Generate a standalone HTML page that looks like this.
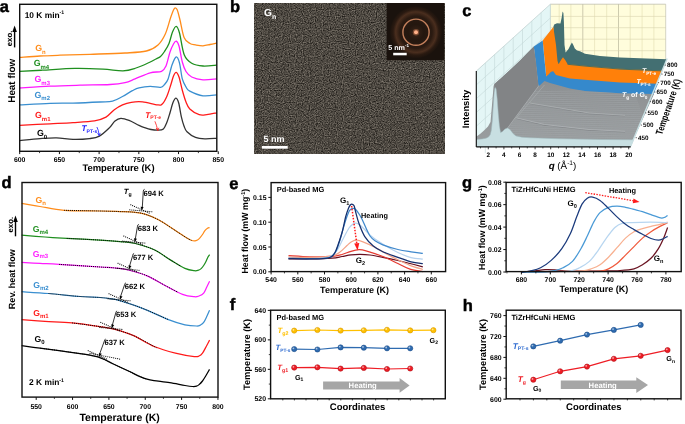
<!DOCTYPE html><html><head><meta charset="utf-8"><style>html,body{margin:0;padding:0;background:#fff;width:685px;height:424px;overflow:hidden}svg{display:block}text{font-family:"Liberation Sans",Arial,sans-serif;text-rendering:geometricPrecision}</style></head><body>
<svg width="685" height="424" viewBox="0 0 685 424">
<rect width="685" height="424" fill="#fff"/>
<text x="-0.3" y="12.3" font-size="16.5" font-weight="bold" text-anchor="start" fill="#000" stroke="#000" stroke-width="0.45">a</text>
<text x="24.7" y="17.6" font-size="8.4" font-weight="bold" text-anchor="start" fill="#000" >10 K min<tspan font-size="0.62em" dy="-3.2">-1</tspan></text>
<path d="M19.7,57.4 C23.08,57.17 33.28,56.37 40,56 C46.72,55.63 51.67,55.48 60,55.2 C68.33,54.92 79.17,54.67 90,54.3 C100.83,53.93 115.6,53.55 125,53 C134.4,52.45 140.9,52.33 146.4,51 C151.9,49.67 154.85,47.83 158,45 C161.15,42.17 163.22,38.5 165.3,34 C167.38,29.5 169.13,22 170.5,18 C171.87,14 172.7,11.68 173.5,10 C174.3,8.32 174.67,7.9 175.3,7.9 C175.93,7.9 176.52,7.98 177.3,10 C178.08,12.02 178.85,15.38 180,20 C181.15,24.62 182.53,33.78 184.2,37.7 C185.87,41.62 188.12,42.3 190,43.5 C191.88,44.7 193.33,44.52 195.5,44.9 C197.67,45.28 200.58,45.87 203,45.8 C205.42,45.73 207.7,44.97 210,44.5 C212.3,44.03 215.67,43.25 216.8,43" fill="none" stroke="#ff8c1a" stroke-width="1.3" stroke-linejoin="round"/>
<path d="M19.7,71.3 C23.42,71.12 32.78,70.68 42,70.2 C51.22,69.72 64.83,68.58 75,68.4 C85.17,68.22 95,68.7 103,69.1 C111,69.5 117.5,70.98 123,70.8 C128.5,70.62 131.63,69.38 136,68 C140.37,66.62 145.87,64 149.2,62.5 C152.53,61 154.12,60 156,59 C157.88,58 159.08,57.75 160.5,56.5 C161.92,55.25 163.08,53.68 164.5,51.5 C165.92,49.32 167.67,46.65 169,43.4 C170.33,40.15 171.3,34.83 172.5,32 C173.7,29.17 175.03,26.23 176.2,26.4 C177.37,26.57 178.17,28.28 179.5,33 C180.83,37.72 182.17,49.67 184.2,54.7 C186.23,59.73 188.57,61.32 191.7,63.2 C194.83,65.08 198.82,65.68 203,66 C207.18,66.32 214.5,65.25 216.8,65.1" fill="none" stroke="#1f8f1f" stroke-width="1.3" stroke-linejoin="round"/>
<path d="M19.7,88 C24.75,87.7 39.95,86.67 50,86.2 C60.05,85.73 70,85.48 80,85.2 C90,84.92 102.5,84.93 110,84.5 C117.5,84.07 120.82,83.53 125,82.6 C129.18,81.67 130.9,80.53 135.1,78.9 C139.3,77.27 145.8,74.07 150.2,72.8 C154.6,71.53 158.87,72.43 161.5,71.3 C164.13,70.17 164.58,69.22 166,66 C167.42,62.78 168.75,55.67 170,52 C171.25,48.33 172.47,45.82 173.5,44 C174.53,42.18 175.28,40.77 176.2,41.1 C177.12,41.43 177.98,42.52 179,46 C180.02,49.48 181.13,57.75 182.3,62 C183.47,66.25 184.43,69 186,71.5 C187.57,74 188.87,75.62 191.7,77 C194.53,78.38 198.82,79.48 203,79.8 C207.18,80.12 214.5,79.05 216.8,78.9" fill="none" stroke="#ff1aff" stroke-width="1.3" stroke-linejoin="round"/>
<path d="M19.7,104.9 C24.75,104.65 41.12,103.7 50,103.4 C58.88,103.1 64.67,103.33 73,103.1 C81.33,102.87 93.4,102.33 100,102 C106.6,101.67 108.85,102.02 112.6,101.1 C116.35,100.18 119.2,98.23 122.5,96.5 C125.8,94.77 129.65,92.13 132.4,90.7 C135.15,89.27 136.03,88.62 139,87.9 C141.97,87.18 146.6,86.48 150.2,86.4 C153.8,86.32 158.22,87.72 160.6,87.4 C162.98,87.08 163.25,85.92 164.5,84.5 C165.75,83.08 166.85,82.15 168.1,78.9 C169.35,75.65 170.65,68.65 172,65 C173.35,61.35 174.95,57.33 176.2,57 C177.45,56.67 178.48,59.35 179.5,63 C180.52,66.65 181.22,74.9 182.3,78.9 C183.38,82.9 184.75,84.97 186,87 C187.25,89.03 186.97,89.63 189.8,91.1 C192.63,92.57 198.5,95.17 203,95.8 C207.5,96.43 214.5,95.05 216.8,94.9" fill="none" stroke="#3a8fd0" stroke-width="1.3" stroke-linejoin="round"/>
<path d="M19.7,125.3 C24.75,125.05 41.12,124.25 50,123.8 C58.88,123.35 65.58,123.1 73,122.6 C80.42,122.1 89,121.72 94.5,120.8 C100,119.88 102.7,118.95 106,117.1 C109.3,115.25 111.55,111.75 114.3,109.7 C117.05,107.65 119.67,106.03 122.5,104.8 C125.33,103.57 127.95,102.78 131.3,102.3 C134.65,101.82 138.2,101.47 142.6,101.9 C147,102.33 154.38,104.58 157.7,104.9 C161.02,105.22 160.95,105.28 162.5,103.8 C164.05,102.32 165.6,99.22 167,96 C168.4,92.78 169.82,87.83 170.9,84.5 C171.98,81.17 172.62,78.03 173.5,76 C174.38,73.97 175.28,72.13 176.2,72.3 C177.12,72.47 177.98,74.02 179,77 C180.02,79.98 181.13,86.03 182.3,90.2 C183.47,94.37 184.75,98.87 186,102 C187.25,105.13 187.6,106.88 189.8,109 C192,111.12 196.37,113.75 199.2,114.7 C202.03,115.65 203.87,115.02 206.8,114.7 C209.73,114.38 215.13,113.12 216.8,112.8" fill="none" stroke="#ff1a1a" stroke-width="1.3" stroke-linejoin="round"/>
<path d="M19.7,140.6 C23.08,140.27 33.87,139.07 40,138.6 C46.13,138.13 51,137.67 56.5,137.8 C62,137.93 67.5,139.27 73,139.4 C78.5,139.53 85.1,139.15 89.5,138.6 C93.9,138.05 96.1,137.88 99.4,136.1 C102.7,134.32 106.7,130.42 109.3,127.9 C111.9,125.38 113.07,122.6 115,121 C116.93,119.4 118.55,118.4 120.9,118.3 C123.25,118.2 126.08,119.22 129.1,120.4 C132.12,121.58 136.43,124.2 139,125.4 C141.57,126.6 142.5,126.92 144.5,127.6 C146.5,128.28 148.8,129.07 151,129.5 C153.2,129.93 155.63,130.3 157.7,130.2 C159.77,130.1 161.85,130.27 163.4,128.9 C164.95,127.53 165.9,124.68 167,122 C168.1,119.32 169,116.05 170,112.8 C171,109.55 172,104.95 173,102.5 C174,100.05 175.05,98.02 176,98.1 C176.95,98.18 177.82,99.92 178.7,103 C179.58,106.08 180.42,112.77 181.3,116.6 C182.18,120.43 183.05,123.48 184,126 C184.95,128.52 185.08,129.8 187,131.7 C188.92,133.6 192.52,136.2 195.5,137.4 C198.48,138.6 201.35,138.75 204.9,138.9 C208.45,139.05 214.82,138.4 216.8,138.3" fill="none" stroke="#333333" stroke-width="1.3" stroke-linejoin="round"/>
<text x="35.2" y="51.4" font-size="8.8" font-weight="bold" text-anchor="start" fill="#ff8c1a" >G<tspan font-size="0.68em" dy="2.4">n</tspan></text>
<text x="33.7" y="66.2" font-size="8.8" font-weight="bold" text-anchor="start" fill="#1f8f1f" >G<tspan font-size="0.68em" dy="2.4">m4</tspan></text>
<text x="34.5" y="82.4" font-size="8.8" font-weight="bold" text-anchor="start" fill="#ff1aff" >G<tspan font-size="0.68em" dy="2.4">m3</tspan></text>
<text x="34.5" y="98" font-size="8.8" font-weight="bold" text-anchor="start" fill="#3a8fd0" >G<tspan font-size="0.68em" dy="2.4">m2</tspan></text>
<text x="35" y="118.2" font-size="8.8" font-weight="bold" text-anchor="start" fill="#ff1a1a" >G<tspan font-size="0.68em" dy="2.4">m1</tspan></text>
<text x="37" y="136.4" font-size="8.8" font-weight="bold" text-anchor="start" fill="#000" >G<tspan font-size="0.68em" dy="2.4">0</tspan></text>
<text x="81.6" y="131.3" font-size="8.2" font-weight="bold" text-anchor="start" fill="#1a1aff" ><tspan font-style="italic">T</tspan><tspan font-size="0.62em" dy="1.5">PT-s</tspan></text>
<path d="M96.9,127 Q98.6,130 99.1,135" fill="none" stroke="#1a1aff" stroke-width="0.8" />
<path d="M97.6,133.2 L99.2,135.8 L100.2,132.9" fill="none" stroke="#1a1aff" stroke-width="0.8" />
<text x="145.3" y="117.5" font-size="8.2" font-weight="bold" text-anchor="start" fill="#ff1a1a" ><tspan font-style="italic">T</tspan><tspan font-size="0.62em" dy="1.5">PT-e</tspan></text>
<path d="M154.9,121.3 Q156.6,125 157.7,130.2" fill="none" stroke="#ff1a1a" stroke-width="0.8" />
<path d="M156.2,128 L157.8,130.8 L158.9,127.8" fill="none" stroke="#ff1a1a" stroke-width="0.8" />
<rect x="19.7" y="4.3" width="197.1" height="147" fill="none" stroke="#111" stroke-width="1.4"/>
<line x1="19.7" y1="151.3" x2="19.7" y2="154.1" stroke="#111" stroke-width="1" />
<text x="19.7" y="162.3" font-size="6.9" font-weight="bold" text-anchor="middle" fill="#000" >600</text>
<line x1="59.41" y1="151.3" x2="59.41" y2="154.1" stroke="#111" stroke-width="1" />
<text x="59.41" y="162.3" font-size="6.9" font-weight="bold" text-anchor="middle" fill="#000" >650</text>
<line x1="99.12" y1="151.3" x2="99.12" y2="154.1" stroke="#111" stroke-width="1" />
<text x="99.12" y="162.3" font-size="6.9" font-weight="bold" text-anchor="middle" fill="#000" >700</text>
<line x1="138.83" y1="151.3" x2="138.83" y2="154.1" stroke="#111" stroke-width="1" />
<text x="138.83" y="162.3" font-size="6.9" font-weight="bold" text-anchor="middle" fill="#000" >750</text>
<line x1="178.54" y1="151.3" x2="178.54" y2="154.1" stroke="#111" stroke-width="1" />
<text x="178.54" y="162.3" font-size="6.9" font-weight="bold" text-anchor="middle" fill="#000" >800</text>
<line x1="218.25" y1="151.3" x2="218.25" y2="154.1" stroke="#111" stroke-width="1" />
<text x="218.25" y="162.3" font-size="6.9" font-weight="bold" text-anchor="middle" fill="#000" >850</text>
<line x1="39.55" y1="151.3" x2="39.55" y2="153.1" stroke="#111" stroke-width="0.8" />
<line x1="79.27" y1="151.3" x2="79.27" y2="153.1" stroke="#111" stroke-width="0.8" />
<line x1="118.98" y1="151.3" x2="118.98" y2="153.1" stroke="#111" stroke-width="0.8" />
<line x1="158.69" y1="151.3" x2="158.69" y2="153.1" stroke="#111" stroke-width="0.8" />
<line x1="198.39" y1="151.3" x2="198.39" y2="153.1" stroke="#111" stroke-width="0.8" />
<text x="118.5" y="170.7" font-size="9.45" font-weight="bold" text-anchor="middle" fill="#000" >Temperature (K)</text>
<text x="15" y="80.8" font-size="9.9" font-weight="bold" text-anchor="middle" fill="#000" transform="rotate(-90 15 80.8)" >Heat flow</text>
<text x="11.8" y="38.4" font-size="7.8" font-weight="bold" text-anchor="middle" fill="#000" transform="rotate(-90 11.8 38.4)" >exo.</text>
<line x1="14.6" y1="47.4" x2="14.6" y2="30" stroke="#000" stroke-width="1.4" />
<path d="M12.3,32 L14.6,25.6 L16.9,32 Z" fill="#000" stroke="none" stroke-width="0" />
<text x="1.4" y="188.3" font-size="16.5" font-weight="bold" text-anchor="start" fill="#000" stroke="#000" stroke-width="0.45">d</text>
<path d="M21.6,203.4 C24.67,203.92 32.9,205.35 40,206.5 C47.1,207.65 54.2,209.55 64.2,210.3 C74.2,211.05 90.7,210.78 100,211 C109.3,211.22 114.17,211.38 120,211.6 C125.83,211.82 130.83,211.87 135,212.3 C139.17,212.73 141.02,212.92 145,214.2 C148.98,215.48 153.83,217.27 158.9,220 C163.97,222.73 170.88,227.68 175.4,230.6 C179.92,233.52 183.25,235.85 186,237.5 C188.75,239.15 190.23,239.98 191.9,240.5 C193.57,241.02 194.82,240.87 196,240.6 C197.18,240.33 197.92,239.92 199,238.9 C200.08,237.88 201.52,235.88 202.5,234.5 C203.48,233.12 204.07,231.63 204.9,230.6 C205.73,229.57 206.72,228.8 207.5,228.3 C208.28,227.8 209.25,227.72 209.6,227.6" fill="none" stroke="#ff8c1a" stroke-width="1.25" stroke-linejoin="round"/>
<path d="M21.6,235.1 C25.5,235.42 37.47,236.45 45,237 C52.53,237.55 57.63,237.88 66.8,238.4 C75.97,238.92 91.13,239.57 100,240.1 C108.87,240.63 114.1,241.03 120,241.6 C125.9,242.17 129.7,242.13 135.4,243.5 C141.1,244.87 148.32,247.03 154.2,249.8 C160.08,252.57 165.58,257 170.7,260.1 C175.82,263.2 180.97,266.63 184.9,268.4 C188.83,270.17 191.95,270.43 194.3,270.7 C196.65,270.97 197.82,270.38 199,270 C200.18,269.62 200.57,269.23 201.4,268.4 C202.23,267.57 203.22,266.18 204,265 C204.78,263.82 205.43,262.63 206.1,261.3 C206.77,259.97 207.42,258.1 208,257 C208.58,255.9 209.33,255.08 209.6,254.7" fill="none" stroke="#1f8f1f" stroke-width="1.25" stroke-linejoin="round"/>
<path d="M21.6,262.3 C24.67,262.48 33.77,263.05 40,263.4 C46.23,263.75 49,263.8 59,264.4 C69,265 90.67,266.4 100,267 C109.33,267.6 110.28,267.5 115,268 C119.72,268.5 122.95,268.7 128.3,270 C133.65,271.3 140.82,273.13 147.1,275.8 C153.38,278.47 160.1,282.92 166,286 C171.9,289.08 177.78,292.52 182.5,294.3 C187.22,296.08 191.55,296.42 194.3,296.7 C197.05,296.98 197.43,296.6 199,296 C200.57,295.4 202.4,294.6 203.7,293.1 C205,291.6 205.82,288.97 206.8,287 C207.78,285.03 209.13,282.25 209.6,281.3" fill="none" stroke="#ff1aff" stroke-width="1.25" stroke-linejoin="round"/>
<path d="M21.6,291.7 C26.1,292 38.87,292.7 48.6,293.5 C58.33,294.3 71.43,295.83 80,296.5 C88.57,297.17 95,297.15 100,297.5 C105,297.85 106.85,298.12 110,298.6 C113.15,299.08 113.5,298.78 118.9,300.4 C124.3,302.02 134.15,305.1 142.4,308.3 C150.65,311.5 161.32,316.85 168.4,319.6 C175.48,322.35 180.18,323.73 184.9,324.8 C189.62,325.87 194.1,325.97 196.7,326 C199.3,326.03 199.33,325.6 200.5,325 C201.67,324.4 202.62,323.9 203.7,322.4 C204.78,320.9 206.02,318.03 207,316 C207.98,313.97 209.17,311.17 209.6,310.2" fill="none" stroke="#3a8fd0" stroke-width="1.25" stroke-linejoin="round"/>
<path d="M21.6,319.7 C25.5,319.97 36.6,320.77 45,321.3 C53.4,321.83 62.83,322.02 72,322.9 C81.17,323.78 92.98,325.55 100,326.6 C107.02,327.65 108.6,327.73 114.1,329.2 C119.6,330.67 126.32,332.52 133,335.4 C139.68,338.28 147.13,343.55 154.2,346.5 C161.27,349.45 168.72,351.42 175.4,353.1 C182.08,354.78 190.37,356.12 194.3,356.6 C198.23,357.08 197.63,356.58 199,356 C200.37,355.42 201.25,354.77 202.5,353.1 C203.75,351.43 205.32,348.17 206.5,346 C207.68,343.83 209.08,341.08 209.6,340.1" fill="none" stroke="#ff1a1a" stroke-width="1.25" stroke-linejoin="round"/>
<path d="M21.6,345.7 C24.67,346.12 33.77,347.38 40,348.2 C46.23,349.02 52.33,349.7 59,350.6 C65.67,351.5 74.83,352.83 80,353.6 C85.17,354.37 87.02,354.67 90,355.2 C92.98,355.73 95.4,356.03 97.9,356.8 C100.4,357.57 102.52,358.65 105,359.8 C107.48,360.95 108.8,361.78 112.8,363.7 C116.8,365.62 124.47,369.15 129,371.3 C133.53,373.45 137,375.28 140,376.6 C143,377.92 144.67,378.53 147,379.2 C149.33,379.87 150.22,380.02 154,380.6 C157.78,381.18 164.53,381.88 169.7,382.7 C174.87,383.52 181.2,384.87 185,385.5 C188.8,386.13 190.58,386.38 192.5,386.5 C194.42,386.62 195.4,386.52 196.5,386.2 C197.6,385.88 198.1,385.47 199.1,384.6 C200.1,383.73 201.4,382.43 202.5,381 C203.6,379.57 204.53,377.93 205.7,376 C206.87,374.07 208.87,370.5 209.5,369.4" fill="none" stroke="#000000" stroke-width="1.25" stroke-linejoin="round"/>
<path d="M64.2,210.3 C70.17,210.42 90.7,210.78 100,211 C109.3,211.22 114.17,211.38 120,211.6 C125.83,211.82 130.83,211.87 135,212.3 C139.17,212.73 141.02,212.92 145,214.2 C148.98,215.48 153.83,217.27 158.9,220 C163.97,222.73 170.88,227.68 175.4,230.6 C179.92,233.52 183.32,235.87 186,237.5 C188.68,239.13 190.58,239.92 191.5,240.4" fill="none" stroke="#000" stroke-width="1" stroke-dasharray="1 1"/>
<path d="M66.8,238.4 C72.33,238.68 91.13,239.57 100,240.1 C108.87,240.63 114.1,241.03 120,241.6 C125.9,242.17 129.7,242.13 135.4,243.5 C141.1,244.87 148.32,247.03 154.2,249.8 C160.08,252.57 166.23,257.33 170.7,260.1 C175.17,262.87 179.28,265.35 181,266.4" fill="none" stroke="#000" stroke-width="1" stroke-dasharray="1 1"/>
<path d="M59,264.4 C65.83,264.83 90.67,266.4 100,267 C109.33,267.6 110.28,267.5 115,268 C119.72,268.5 122.95,268.7 128.3,270 C133.65,271.3 140.82,273.13 147.1,275.8 C153.38,278.47 160.85,283.25 166,286 C171.15,288.75 176,291.25 178,292.3" fill="none" stroke="#000" stroke-width="1" stroke-dasharray="1 1"/>
<path d="M48.6,293.5 C53.83,294 71.43,295.83 80,296.5 C88.57,297.17 95,297.15 100,297.5 C105,297.85 106.85,298.12 110,298.6 C113.15,299.08 113.5,298.78 118.9,300.4 C124.3,302.02 134.15,305.1 142.4,308.3 C150.65,311.5 164.07,317.72 168.4,319.6" fill="none" stroke="#000" stroke-width="1" stroke-dasharray="1 1"/>
<path d="M72,322.9 C76.67,323.52 92.98,325.55 100,326.6 C107.02,327.65 108.6,327.73 114.1,329.2 C119.6,330.67 126.32,332.52 133,335.4 C139.68,338.28 150.37,344.5 154.2,346.5 C158.03,348.5 155.7,347.25 156,347.4" fill="none" stroke="#000" stroke-width="1" stroke-dasharray="1 1"/>
<path d="M40,348.2 C43.17,348.6 52.33,349.7 59,350.6 C65.67,351.5 74.83,352.83 80,353.6 C85.17,354.37 87.02,354.67 90,355.2 C92.98,355.73 95.4,356.03 97.9,356.8 C100.4,357.57 102.52,358.65 105,359.8 C107.48,360.95 108.8,361.78 112.8,363.7 C116.8,365.62 124.47,369.15 129,371.3 C133.53,373.45 137.17,375.32 140,376.6 C142.83,377.88 145,378.6 146,379" fill="none" stroke="#000" stroke-width="1" stroke-dasharray="1 1"/>
<line x1="130.8" y1="204.8" x2="150.8" y2="213.8" stroke="#000" stroke-width="1.15" stroke-dasharray="0.01 2" stroke-linecap="round"/>
<line x1="129.8" y1="209.8" x2="153.8" y2="211.9" stroke="#000" stroke-width="1.15" stroke-dasharray="0.01 2" stroke-linecap="round"/>
<line x1="123.8" y1="236.1" x2="143.8" y2="245.1" stroke="#000" stroke-width="1.15" stroke-dasharray="0.01 2" stroke-linecap="round"/>
<line x1="122.8" y1="241.1" x2="146.8" y2="243.2" stroke="#000" stroke-width="1.15" stroke-dasharray="0.01 2" stroke-linecap="round"/>
<line x1="118" y1="263.3" x2="138" y2="272.3" stroke="#000" stroke-width="1.15" stroke-dasharray="0.01 2" stroke-linecap="round"/>
<line x1="117" y1="268.3" x2="141" y2="270.4" stroke="#000" stroke-width="1.15" stroke-dasharray="0.01 2" stroke-linecap="round"/>
<line x1="109" y1="293.8" x2="129" y2="302.8" stroke="#000" stroke-width="1.15" stroke-dasharray="0.01 2" stroke-linecap="round"/>
<line x1="108" y1="298.8" x2="132" y2="300.9" stroke="#000" stroke-width="1.15" stroke-dasharray="0.01 2" stroke-linecap="round"/>
<line x1="100.8" y1="322.4" x2="120.8" y2="331.4" stroke="#000" stroke-width="1.15" stroke-dasharray="0.01 2" stroke-linecap="round"/>
<line x1="99.8" y1="327.4" x2="123.8" y2="329.5" stroke="#000" stroke-width="1.15" stroke-dasharray="0.01 2" stroke-linecap="round"/>
<line x1="88.2" y1="350.7" x2="108.2" y2="359.7" stroke="#000" stroke-width="1.15" stroke-dasharray="0.01 2" stroke-linecap="round"/>
<line x1="90" y1="353.3" x2="121.3" y2="359.4" stroke="#000" stroke-width="1.15" stroke-dasharray="0.01 2" stroke-linecap="round"/>
<text x="143.5" y="195.5" font-size="7.6" font-weight="bold" text-anchor="start" fill="#000" >694 K</text>
<path d="M144.6,189.3 Q143.4,189.5 143.3,191.1 L142.3,207.4" fill="none" stroke="#000" stroke-width="0.8" />
<path d="M141.8,210.6 L140.6,206.7 L143.59,206.93 Z" fill="#000"/>
<text x="137.7" y="230.6" font-size="7.6" font-weight="bold" text-anchor="start" fill="#000" >683 K</text>
<path d="M138.8,224.4 Q137.6,224.6 137.5,226.2 L135.3,239" fill="none" stroke="#000" stroke-width="0.8" />
<path d="M134.8,242.2 L133.95,238.2 L136.91,238.7 Z" fill="#000"/>
<text x="133" y="259.6" font-size="7.6" font-weight="bold" text-anchor="start" fill="#000" >677 K</text>
<path d="M134.1,253.4 Q132.9,253.6 132.8,255.2 L129.5,266.2" fill="none" stroke="#000" stroke-width="0.8" />
<path d="M129,269.4 L128.53,265.34 L131.43,266.12 Z" fill="#000"/>
<text x="124.8" y="289.1" font-size="7.6" font-weight="bold" text-anchor="start" fill="#000" >662 K</text>
<path d="M125.9,282.9 Q124.7,283.1 124.6,284.7 L120.5,296.6" fill="none" stroke="#000" stroke-width="0.8" />
<path d="M120,299.8 L119.67,295.73 L122.54,296.6 Z" fill="#000"/>
<text x="116" y="317.2" font-size="7.6" font-weight="bold" text-anchor="start" fill="#000" >653 K</text>
<path d="M117.1,311 Q115.9,311.2 115.8,312.8 L112.3,325.2" fill="none" stroke="#000" stroke-width="0.8" />
<path d="M111.8,328.4 L111.29,324.35 L114.2,325.09 Z" fill="#000"/>
<text x="104.6" y="345.3" font-size="7.6" font-weight="bold" text-anchor="start" fill="#000" >637 K</text>
<path d="M105.7,339.1 Q104.5,339.3 104.4,340.9 L99.7,353.8" fill="none" stroke="#000" stroke-width="0.8" />
<path d="M99.2,357 L98.94,352.92 L101.8,353.84 Z" fill="#000"/>
<text x="123.8" y="194.4" font-size="7.6" font-weight="bold" text-anchor="start" fill="#000" ><tspan font-style="italic">T</tspan><tspan font-size="0.68em" dy="1.6">g</tspan></text>
<text x="35.6" y="202.6" font-size="8.6" font-weight="bold" text-anchor="start" fill="#ff8c1a" >G<tspan font-size="0.7em" dy="1.9">n</tspan></text>
<text x="32.7" y="232.1" font-size="8.6" font-weight="bold" text-anchor="start" fill="#1f8f1f" >G<tspan font-size="0.7em" dy="1.9">m4</tspan></text>
<text x="32.7" y="256.5" font-size="8.6" font-weight="bold" text-anchor="start" fill="#ff1aff" >G<tspan font-size="0.7em" dy="1.9">m3</tspan></text>
<text x="33.2" y="287.7" font-size="8.6" font-weight="bold" text-anchor="start" fill="#3a8fd0" >G<tspan font-size="0.7em" dy="1.9">m2</tspan></text>
<text x="33.2" y="315.7" font-size="8.6" font-weight="bold" text-anchor="start" fill="#ff1a1a" >G<tspan font-size="0.7em" dy="1.9">m1</tspan></text>
<text x="34.5" y="342.3" font-size="8.6" font-weight="bold" text-anchor="start" fill="#000" >G<tspan font-size="0.7em" dy="1.9">0</tspan></text>
<text x="29.1" y="385.1" font-size="8.4" font-weight="bold" text-anchor="start" fill="#000" >2 K min<tspan font-size="0.62em" dy="-3.2">-1</tspan></text>
<rect x="22" y="182.5" width="196" height="214.6" fill="none" stroke="#111" stroke-width="1.4"/>
<line x1="36.2" y1="397.1" x2="36.2" y2="399.9" stroke="#111" stroke-width="1" />
<text x="36.2" y="408.8" font-size="6.9" font-weight="bold" text-anchor="middle" fill="#000" >550</text>
<line x1="72.55" y1="397.1" x2="72.55" y2="399.9" stroke="#111" stroke-width="1" />
<text x="72.55" y="408.8" font-size="6.9" font-weight="bold" text-anchor="middle" fill="#000" >600</text>
<line x1="108.9" y1="397.1" x2="108.9" y2="399.9" stroke="#111" stroke-width="1" />
<text x="108.9" y="408.8" font-size="6.9" font-weight="bold" text-anchor="middle" fill="#000" >650</text>
<line x1="145.25" y1="397.1" x2="145.25" y2="399.9" stroke="#111" stroke-width="1" />
<text x="145.25" y="408.8" font-size="6.9" font-weight="bold" text-anchor="middle" fill="#000" >700</text>
<line x1="181.6" y1="397.1" x2="181.6" y2="399.9" stroke="#111" stroke-width="1" />
<text x="181.6" y="408.8" font-size="6.9" font-weight="bold" text-anchor="middle" fill="#000" >750</text>
<line x1="217.95" y1="397.1" x2="217.95" y2="399.9" stroke="#111" stroke-width="1" />
<text x="217.95" y="408.8" font-size="6.9" font-weight="bold" text-anchor="middle" fill="#000" >800</text>
<line x1="54.38" y1="397.1" x2="54.38" y2="398.9" stroke="#111" stroke-width="0.8" />
<line x1="90.72" y1="397.1" x2="90.72" y2="398.9" stroke="#111" stroke-width="0.8" />
<line x1="127.08" y1="397.1" x2="127.08" y2="398.9" stroke="#111" stroke-width="0.8" />
<line x1="163.43" y1="397.1" x2="163.43" y2="398.9" stroke="#111" stroke-width="0.8" />
<line x1="199.77" y1="397.1" x2="199.77" y2="398.9" stroke="#111" stroke-width="0.8" />
<text x="119.6" y="421.3" font-size="10.5" font-weight="bold" text-anchor="middle" fill="#000" >Temperature (K)</text>
<text x="14.6" y="279.2" font-size="9" font-weight="bold" text-anchor="middle" fill="#000" transform="rotate(-90 14.6 279.2)" >Rev. heat flow</text>
<text x="13.1" y="224.7" font-size="7.8" font-weight="bold" text-anchor="middle" fill="#000" transform="rotate(-90 13.1 224.7)" >exo.</text>
<line x1="15.5" y1="236.3" x2="15.5" y2="220" stroke="#000" stroke-width="1.4" />
<path d="M13.2,222 L15.5,215.4 L17.8,222 Z" fill="#000" stroke="none" stroke-width="0" />
<text x="229.9" y="11.8" font-size="16.5" font-weight="bold" text-anchor="start" fill="#000" stroke="#000" stroke-width="0.45">b</text>
<defs><filter id="tem" x="0" y="0" width="100%" height="100%" color-interpolation-filters="sRGB"><feTurbulence type="fractalNoise" baseFrequency="0.85" numOctaves="2" seed="11" result="n"/><feGaussianBlur in="n" stdDeviation="0.3" result="nb"/><feColorMatrix type="matrix" in="nb" values="0.6 0 0 0 0.005  0.575 0 0 0 -0.002  0.54 0 0 0 -0.012  0 0 0 0 1"/></filter><radialGradient id="ring" cx="0.5" cy="0.5" r="0.5"><stop offset="0" stop-color="#3a2418"/><stop offset="0.3" stop-color="#24170f"/><stop offset="0.62" stop-color="#2a1a11"/><stop offset="0.78" stop-color="#4a2e1e"/><stop offset="0.88" stop-color="#2a1a11"/><stop offset="1" stop-color="#1c130d"/></radialGradient><filter id="blr" x="-20%" y="-20%" width="140%" height="140%"><feGaussianBlur stdDeviation="0.5"/></filter></defs>
<rect x="254.1" y="3" width="190.7" height="150.7" fill="#574f47"/>
<rect x="254.1" y="3" width="190.7" height="150.7" filter="url(#tem)"/>
<rect x="386.6" y="3" width="57.7" height="57.2" fill="#1a120d"/>
<circle cx="416" cy="32.2" r="26" fill="url(#ring)"/>
<circle cx="416" cy="32.2" r="13.1" fill="none" stroke="#c4805c" stroke-width="1.4" filter="url(#blr)"/>
<circle cx="416" cy="32.2" r="3.2" fill="#7a4a30" filter="url(#blr)"/>
<circle cx="416" cy="32.2" r="2.0" fill="#ffb088" filter="url(#blr)"/>
<text x="388.2" y="49.6" font-size="7.2" font-weight="bold" text-anchor="start" fill="#fff" >5 nm<tspan font-size="0.62em" dy="-2.8">-1</tspan></text>
<rect x="393.2" y="52.8" width="13.5" height="2.5" fill="#fff"/>
<text x="264" y="16.4" font-size="10.2" font-weight="bold" text-anchor="start" fill="#fff" >G<tspan font-size="0.68em" dy="2.8">n</tspan></text>
<text x="263.4" y="142.4" font-size="9" font-weight="bold" text-anchor="start" fill="#fff" >5 nm</text>
<rect x="261.9" y="146" width="25.8" height="2.7" fill="#fff"/>
<text x="462.3" y="15.6" font-size="16.5" font-weight="bold" text-anchor="start" fill="#000" stroke="#000" stroke-width="0.45">c</text>
<rect x="550.4" y="4.2" width="115.3" height="60" fill="#fffddc"/>
<line x1="559.2" y1="4.2" x2="559.2" y2="64" stroke="#e0dcb0" stroke-width="0.6" />
<line x1="570.9" y1="4.2" x2="570.9" y2="64" stroke="#e0dcb0" stroke-width="0.6" />
<line x1="594.6" y1="4.2" x2="594.6" y2="64" stroke="#e0dcb0" stroke-width="0.6" />
<line x1="606.7" y1="4.2" x2="606.7" y2="64" stroke="#e0dcb0" stroke-width="0.6" />
<line x1="630.2" y1="4.2" x2="630.2" y2="64" stroke="#e0dcb0" stroke-width="0.6" />
<line x1="642.1" y1="4.2" x2="642.1" y2="64" stroke="#e0dcb0" stroke-width="0.6" />
<line x1="653.9" y1="4.2" x2="653.9" y2="64" stroke="#e0dcb0" stroke-width="0.6" />
<line x1="582.8" y1="4.2" x2="582.8" y2="64" stroke="#b8b49a" stroke-width="0.7" />
<line x1="618.5" y1="4.2" x2="618.5" y2="64" stroke="#b8b49a" stroke-width="0.7" />
<line x1="550.4" y1="16.4" x2="665.7" y2="16.4" stroke="#d8d4ae" stroke-width="0.6" />
<line x1="550.4" y1="27.7" x2="665.7" y2="27.7" stroke="#d8d4ae" stroke-width="0.6" />
<line x1="550.4" y1="39.2" x2="665.7" y2="39.2" stroke="#d8d4ae" stroke-width="0.6" />
<line x1="550.4" y1="50.7" x2="665.7" y2="50.7" stroke="#d8d4ae" stroke-width="0.6" />
<line x1="665.7" y1="4.2" x2="665.7" y2="60" stroke="#b8b8a8" stroke-width="0.6" />
<line x1="550.4" y1="4.2" x2="665.7" y2="4.2" stroke="#b8b8a8" stroke-width="0.7" />
<path d="M476.4,71 L550.4,4.2 L550.4,70 L476.4,146.5 Z" fill="#e4f6f6" stroke="#b0c4c4" stroke-width="0.6"/>
<line x1="485.3" y1="62.97" x2="485.3" y2="152.97" stroke="#c2d6d6" stroke-width="0.6" />
<line x1="494.6" y1="54.57" x2="494.6" y2="144.57" stroke="#c2d6d6" stroke-width="0.6" />
<line x1="503.9" y1="46.18" x2="503.9" y2="136.18" stroke="#c2d6d6" stroke-width="0.6" />
<line x1="513.2" y1="37.78" x2="513.2" y2="127.78" stroke="#c2d6d6" stroke-width="0.6" />
<line x1="522.5" y1="29.39" x2="522.5" y2="119.39" stroke="#c2d6d6" stroke-width="0.6" />
<line x1="531.8" y1="20.99" x2="531.8" y2="110.99" stroke="#c2d6d6" stroke-width="0.6" />
<line x1="541.1" y1="12.6" x2="541.1" y2="102.6" stroke="#c2d6d6" stroke-width="0.6" />
<line x1="476.4" y1="84.8" x2="550.4" y2="18" stroke="#c2d6d6" stroke-width="0.6" />
<line x1="476.4" y1="98.6" x2="550.4" y2="31.8" stroke="#c2d6d6" stroke-width="0.6" />
<line x1="476.4" y1="112.4" x2="550.4" y2="45.6" stroke="#c2d6d6" stroke-width="0.6" />
<line x1="476.4" y1="126.2" x2="550.4" y2="59.4" stroke="#c2d6d6" stroke-width="0.6" />
<line x1="476.4" y1="140" x2="550.4" y2="73.2" stroke="#c2d6d6" stroke-width="0.6" />
<path d="M553.3,27.1 L554.2,24.4 L557,23.2 L560.4,23.6 L561.6,18 L562.6,11.5 L563.4,13 L563.9,22 L564.5,45 L565.6,52.5 L568.5,49 L570.5,45 L571.9,42.5 L573.3,45 L574.8,48.5 L577,50.5 L580,51.2 L585,53.8 L600,56 L620,57.5 L667,59.2 L630.7,145.6 L553,145.6 Z" fill="#436f72" stroke="none" stroke-width="0" />
<path d="M546.2,76.6 L542.7,40.4 L553.3,27.1 L556,45 L557.5,61 L558.6,64.2 L561,60 L563,57.2 L565.5,60.5 L567.5,64 L585,65.8 L620,68.8 L662.3,70.6 L630.7,145.6 L546,145.6 Z" fill="#ff800a" stroke="none" stroke-width="0" />
<path d="M567.5,64.3 L585,66.1 L620,69.1 L662.3,70.9" fill="none" stroke="#2f6a6a" stroke-width="0.8" />
<path d="M538.3,86.4 L533.8,46.5 L542.7,40.4 L544.5,60 L546.2,76.6 L548.5,74.5 L551,71.8 L553.3,71.3 L556,75 L570,78.5 L585,79.8 L620,82.5 L658,83.8 L630.7,145.6 L538,145.6 Z" fill="#3589cc" stroke="none" stroke-width="0" />
<defs><clipPath id="gclip"><path d="M476.5,136.5 L480,134 L484,130.5 L488,126.5 L490.5,122 L492,105 L493.6,86 L494.5,83.8 L500,79 L510,70 L520.6,60 L533.8,46.5 L536,62 L537.9,80 L538.6,86.4 L541,84.2 L544.5,81 L550,83 L570,88.6 L585,90.9 L620,93.2 L654,94 L630.7,145.6 L476.5,145.6 Z"/></clipPath><linearGradient id="gg" x1="0" y1="0" x2="0" y2="1"><stop offset="0" stop-color="#848688"/><stop offset="0.45" stop-color="#8f9294"/><stop offset="1" stop-color="#9a9ea0"/></linearGradient></defs>
<path d="M476.5,136.5 L480,134 L484,130.5 L488,126.5 L490.5,122 L492,105 L493.6,86 L494.5,83.8 L500,79 L510,70 L520.6,60 L533.8,46.5 L536,62 L537.9,80 L538.6,86.4 L541,84.2 L544.5,81 L550,83 L570,88.6 L585,90.9 L620,93.2 L654,94 L630.7,145.6 L476.5,145.6 Z" fill="url(#gg)" stroke="none" stroke-width="0" />
<g clip-path="url(#gclip)">
<path d="M494.5,84.2 L533.8,46.5 L538.6,86.4 L506.5,129.5 L500.5,134 L497.5,110 Z" fill="#828486" stroke="none" stroke-width="0" />
<path d="M506.5,129.5 L539.5,84.9" fill="none" stroke="#a6aaac" stroke-width="1" />
<path d="M516.4,117.9 L544.5,84.9" fill="none" stroke="#a6aaac" stroke-width="0.9" opacity="0.8"/>
<path d="M516.4,118.6 L544.5,125.2 L589,130.2 L625,132" fill="none" stroke="#74777a" stroke-width="0.9" opacity="0.7"/>
<path d="M516.4,117.9 L544.5,124.5 L589,129.5 L625,131.3" fill="none" stroke="#b2b6b8" stroke-width="0.9" opacity="0.9"/>
<path d="M529.6,103.7 L560,108.7 L589,113.7 L625,116" fill="none" stroke="#74777a" stroke-width="0.9" opacity="0.6"/>
<path d="M529.6,103 L560,108 L589,113 L625,115.3" fill="none" stroke="#b2b6b8" stroke-width="0.9" opacity="0.8"/>
<line x1="500" y1="140" x2="650" y2="136.5" stroke="#a8adb0" stroke-width="0.6" opacity="0.6"/>
<line x1="501.5" y1="137.9" x2="649.3" y2="134.48" stroke="#a8adb0" stroke-width="0.6" opacity="0.6"/>
<line x1="503" y1="135.8" x2="648.6" y2="132.46" stroke="#a8adb0" stroke-width="0.6" opacity="0.6"/>
<line x1="504.5" y1="133.7" x2="647.9" y2="130.44" stroke="#a8adb0" stroke-width="0.6" opacity="0.6"/>
<line x1="506" y1="131.6" x2="647.2" y2="128.42" stroke="#a8adb0" stroke-width="0.6" opacity="0.6"/>
<line x1="507.5" y1="129.5" x2="646.5" y2="126.4" stroke="#a8adb0" stroke-width="0.6" opacity="0.6"/>
<line x1="509" y1="127.4" x2="645.8" y2="124.38" stroke="#a8adb0" stroke-width="0.6" opacity="0.6"/>
<line x1="510.5" y1="125.3" x2="645.1" y2="122.36" stroke="#a8adb0" stroke-width="0.6" opacity="0.6"/>
<line x1="512" y1="123.2" x2="644.4" y2="120.34" stroke="#a8adb0" stroke-width="0.6" opacity="0.6"/>
<line x1="513.5" y1="121.1" x2="643.7" y2="118.32" stroke="#a8adb0" stroke-width="0.6" opacity="0.6"/>
<line x1="515" y1="119" x2="643" y2="116.3" stroke="#a8adb0" stroke-width="0.6" opacity="0.6"/>
<line x1="516.5" y1="116.9" x2="642.3" y2="114.28" stroke="#a8adb0" stroke-width="0.6" opacity="0.6"/>
<line x1="518" y1="114.8" x2="641.6" y2="112.26" stroke="#a8adb0" stroke-width="0.6" opacity="0.6"/>
<line x1="519.5" y1="112.7" x2="640.9" y2="110.24" stroke="#a8adb0" stroke-width="0.6" opacity="0.6"/>
<line x1="521" y1="110.6" x2="640.2" y2="108.22" stroke="#a8adb0" stroke-width="0.6" opacity="0.6"/>
<line x1="522.5" y1="108.5" x2="639.5" y2="106.2" stroke="#a8adb0" stroke-width="0.6" opacity="0.6"/>
<line x1="524" y1="106.4" x2="638.8" y2="104.18" stroke="#a8adb0" stroke-width="0.6" opacity="0.6"/>
<line x1="525.5" y1="104.3" x2="638.1" y2="102.16" stroke="#a8adb0" stroke-width="0.6" opacity="0.6"/>
<line x1="527" y1="102.2" x2="637.4" y2="100.14" stroke="#a8adb0" stroke-width="0.6" opacity="0.6"/>
<line x1="528.5" y1="100.1" x2="636.7" y2="98.12" stroke="#a8adb0" stroke-width="0.6" opacity="0.6"/>
<line x1="530" y1="98" x2="636" y2="96.1" stroke="#a8adb0" stroke-width="0.6" opacity="0.6"/>
<line x1="531.5" y1="95.9" x2="635.3" y2="94.08" stroke="#a8adb0" stroke-width="0.6" opacity="0.6"/>
<line x1="533" y1="93.8" x2="634.6" y2="92.06" stroke="#a8adb0" stroke-width="0.6" opacity="0.6"/>
<line x1="534.5" y1="91.7" x2="633.9" y2="90.04" stroke="#a8adb0" stroke-width="0.6" opacity="0.6"/>
</g>
<path d="M476.5,146.6 L476.5,139.4 L482,139 L486,138.2 L488.5,137 L490.2,134.8 L491.3,130.5 L492.3,121 L493.3,105 L494.2,92.5 L494.9,88.3 L495.5,87.6 L496.2,89.5 L497.2,99 L498.3,114 L499.4,126 L500.6,132.6 L502.5,131.5 L505,129 L507.5,128 L510,129.5 L513,133.5 L516,136 L522,137.2 L530,137.8 L560,138.8 L600,139.5 L633.4,139.8 L630.7,146.6 Z" fill="#c8dfe2" stroke="#9fb8bc" stroke-width="0.5" />
<line x1="667.2" y1="58.6" x2="630.7" y2="146" stroke="#c8dfe2" stroke-width="1.4" />
<line x1="476.3" y1="71" x2="476.3" y2="147" stroke="#111" stroke-width="1.1" />
<line x1="476.3" y1="146.9" x2="630.7" y2="146.9" stroke="#111" stroke-width="1.1" />
<line x1="488.3" y1="146.9" x2="488.3" y2="149.3" stroke="#111" stroke-width="0.8" />
<text x="488.3" y="156.5" font-size="6.4" font-weight="bold" text-anchor="middle" fill="#000" >2</text>
<line x1="503.9" y1="146.9" x2="503.9" y2="149.3" stroke="#111" stroke-width="0.8" />
<text x="503.9" y="156.5" font-size="6.4" font-weight="bold" text-anchor="middle" fill="#000" >4</text>
<line x1="519.5" y1="146.9" x2="519.5" y2="149.3" stroke="#111" stroke-width="0.8" />
<text x="519.5" y="156.5" font-size="6.4" font-weight="bold" text-anchor="middle" fill="#000" >6</text>
<line x1="535.1" y1="146.9" x2="535.1" y2="149.3" stroke="#111" stroke-width="0.8" />
<text x="535.1" y="156.5" font-size="6.4" font-weight="bold" text-anchor="middle" fill="#000" >8</text>
<line x1="550.7" y1="146.9" x2="550.7" y2="149.3" stroke="#111" stroke-width="0.8" />
<text x="550.7" y="156.5" font-size="6.4" font-weight="bold" text-anchor="middle" fill="#000" >10</text>
<line x1="566.3" y1="146.9" x2="566.3" y2="149.3" stroke="#111" stroke-width="0.8" />
<text x="566.3" y="156.5" font-size="6.4" font-weight="bold" text-anchor="middle" fill="#000" >12</text>
<line x1="581.9" y1="146.9" x2="581.9" y2="149.3" stroke="#111" stroke-width="0.8" />
<text x="581.9" y="156.5" font-size="6.4" font-weight="bold" text-anchor="middle" fill="#000" >14</text>
<line x1="597.5" y1="146.9" x2="597.5" y2="149.3" stroke="#111" stroke-width="0.8" />
<text x="597.5" y="156.5" font-size="6.4" font-weight="bold" text-anchor="middle" fill="#000" >16</text>
<line x1="613.1" y1="146.9" x2="613.1" y2="149.3" stroke="#111" stroke-width="0.8" />
<text x="613.1" y="156.5" font-size="6.4" font-weight="bold" text-anchor="middle" fill="#000" >18</text>
<line x1="628.7" y1="146.9" x2="628.7" y2="149.3" stroke="#111" stroke-width="0.8" />
<text x="628.7" y="156.5" font-size="6.4" font-weight="bold" text-anchor="middle" fill="#000" >20</text>
<line x1="480.5" y1="146.9" x2="480.5" y2="148.4" stroke="#111" stroke-width="0.7" />
<line x1="496.1" y1="146.9" x2="496.1" y2="148.4" stroke="#111" stroke-width="0.7" />
<line x1="511.7" y1="146.9" x2="511.7" y2="148.4" stroke="#111" stroke-width="0.7" />
<line x1="527.3" y1="146.9" x2="527.3" y2="148.4" stroke="#111" stroke-width="0.7" />
<line x1="542.9" y1="146.9" x2="542.9" y2="148.4" stroke="#111" stroke-width="0.7" />
<line x1="558.5" y1="146.9" x2="558.5" y2="148.4" stroke="#111" stroke-width="0.7" />
<line x1="574.1" y1="146.9" x2="574.1" y2="148.4" stroke="#111" stroke-width="0.7" />
<line x1="589.7" y1="146.9" x2="589.7" y2="148.4" stroke="#111" stroke-width="0.7" />
<line x1="605.3" y1="146.9" x2="605.3" y2="148.4" stroke="#111" stroke-width="0.7" />
<line x1="620.9" y1="146.9" x2="620.9" y2="148.4" stroke="#111" stroke-width="0.7" />
<text x="667" y="67.3" font-size="6.3" font-weight="bold" text-anchor="start" fill="#000" >800</text>
<line x1="664.8" y1="65.1" x2="665.8" y2="65.1" stroke="#111" stroke-width="0.8" />
<text x="663.7" y="76.3" font-size="6.3" font-weight="bold" text-anchor="start" fill="#000" >750</text>
<line x1="661.5" y1="74.1" x2="662.5" y2="74.1" stroke="#111" stroke-width="0.8" />
<text x="660.3" y="84.9" font-size="6.3" font-weight="bold" text-anchor="start" fill="#000" >700</text>
<line x1="658.1" y1="82.7" x2="659.1" y2="82.7" stroke="#111" stroke-width="0.8" />
<text x="656.5" y="94.3" font-size="6.3" font-weight="bold" text-anchor="start" fill="#000" >650</text>
<line x1="654.3" y1="92.1" x2="655.3" y2="92.1" stroke="#111" stroke-width="0.8" />
<text x="652" y="103.9" font-size="6.3" font-weight="bold" text-anchor="start" fill="#000" >600</text>
<line x1="649.8" y1="101.7" x2="650.8" y2="101.7" stroke="#111" stroke-width="0.8" />
<text x="647.5" y="115.2" font-size="6.3" font-weight="bold" text-anchor="start" fill="#000" >550</text>
<line x1="645.3" y1="113" x2="646.3" y2="113" stroke="#111" stroke-width="0.8" />
<text x="643" y="127.3" font-size="6.3" font-weight="bold" text-anchor="start" fill="#000" >500</text>
<line x1="640.8" y1="125.1" x2="641.8" y2="125.1" stroke="#111" stroke-width="0.8" />
<text x="637.9" y="139.9" font-size="6.3" font-weight="bold" text-anchor="start" fill="#000" >450</text>
<line x1="635.7" y1="137.7" x2="636.7" y2="137.7" stroke="#111" stroke-width="0.8" />
<text x="0" y="0" font-size="9.5" font-weight="bold" text-anchor="middle" fill="#000" transform="matrix(0.262 -0.76 1.02 0.26 671.6 107.6)">Temperature (K)</text>
<text x="469.3" y="109" font-size="9.4" font-weight="bold" text-anchor="middle" fill="#000" transform="rotate(-90 469.3 109)" >Intensity</text>
<text x="562.5" y="169" font-size="9.8" font-weight="bold" text-anchor="middle" fill="#000" ><tspan font-style="italic">q</tspan><tspan font-weight="normal"> (Å<tspan font-size="0.68em" dy="-3.6">-1</tspan><tspan dy="3.6">)</tspan></tspan></text>
<text x="642" y="72.7" font-size="6.9" font-weight="bold" text-anchor="start" fill="#fff" ><tspan font-style="italic">T</tspan><tspan font-size="0.68em" dy="1.9">PT-e</tspan></text>
<text x="636.4" y="83.9" font-size="6.9" font-weight="bold" text-anchor="start" fill="#fff" ><tspan font-style="italic">T</tspan><tspan font-size="0.68em" dy="1.9">PT-s</tspan></text>
<text x="622" y="96.6" font-size="6.9" font-weight="bold" text-anchor="start" fill="#fff" ><tspan font-style="italic">T</tspan><tspan font-size="0.68em" dy="2">g</tspan><tspan dy="-2.0"> of G</tspan><tspan font-size="0.68em" dy="1.9">0</tspan></text>
<text x="229.3" y="189.1" font-size="16.5" font-weight="bold" text-anchor="start" fill="#000" stroke="#000" stroke-width="0.45">e</text>
<text x="276.7" y="192.2" font-size="7.45" font-weight="bold" text-anchor="start" fill="#000" >Pd-based MG</text>
<path d="M288.5,258.8 C292.08,258.83 302.75,259.1 310,259 C317.25,258.9 326.67,258.62 332,258.2 C337.33,257.78 338.83,257.07 342,256.5 C345.17,255.93 347.98,255.17 351,254.8 C354.02,254.43 356.93,254.27 360.1,254.3 C363.27,254.33 366.22,254.5 370,255 C373.78,255.5 378.15,256.38 382.8,257.3 C387.45,258.22 393.37,259.47 397.9,260.5 C402.43,261.53 405.85,262.45 410,263.5 C414.15,264.55 420.67,266.25 422.8,266.8" fill="none" stroke="#650d1e" stroke-width="1.25" stroke-linejoin="round"/>
<path d="M288.5,255.6 C292.08,255.8 302.75,256.67 310,256.8 C317.25,256.93 326.67,256.78 332,256.4 C337.33,256.02 338.83,255.35 342,254.5 C345.17,253.65 348.17,252.1 351,251.3 C353.83,250.5 356.5,249.78 359,249.7 C361.5,249.62 362.03,249.67 366,250.8 C369.97,251.93 377.48,254.38 382.8,256.5 C388.12,258.62 393.37,261.38 397.9,263.5 C402.43,265.62 405.85,267.85 410,269.2 C414.15,270.55 420.67,271.2 422.8,271.6" fill="none" stroke="#e63a30" stroke-width="1.25" stroke-linejoin="round"/>
<path d="M288.5,257.2 C292.08,257.23 302.75,257.63 310,257.4 C317.25,257.17 327,256.7 332,255.8 C337,254.9 337.5,253.72 340,252 C342.5,250.28 345,247.25 347,245.5 C349,243.75 350.33,242.38 352,241.5 C353.67,240.62 355.17,240.15 357,240.2 C358.83,240.25 360.28,240.75 363,241.8 C365.72,242.85 369.63,244.63 373.3,246.5 C376.97,248.37 380.9,250.78 385,253 C389.1,255.22 393.73,257.75 397.9,259.8 C402.07,261.85 405.85,263.68 410,265.3 C414.15,266.92 420.67,268.8 422.8,269.5" fill="none" stroke="#f4a488" stroke-width="1.25" stroke-linejoin="round"/>
<path d="M288.5,258.2 C292.08,258.25 303.75,258.57 310,258.5 C316.25,258.43 322.33,258.3 326,257.8 C329.67,257.3 330.17,256.72 332,255.5 C333.83,254.28 335.17,253.25 337,250.5 C338.83,247.75 341,242.75 343,239 C345,235.25 347.33,230.5 349,228 C350.67,225.5 351.83,224.8 353,224 C354.17,223.2 354.83,223.03 356,223.2 C357.17,223.37 358.33,223.7 360,225 C361.67,226.3 363.78,228.87 366,231 C368.22,233.13 370.13,235.38 373.3,237.8 C376.47,240.22 380.9,243.05 385,245.5 C389.1,247.95 393.57,250.48 397.9,252.5 C402.23,254.52 406.85,256.48 411,257.6 C415.15,258.72 420.83,258.93 422.8,259.2" fill="none" stroke="#b6d2ee" stroke-width="1.25" stroke-linejoin="round"/>
<path d="M288.5,258.4 C292.08,258.43 303.75,258.67 310,258.6 C316.25,258.53 322.42,258.37 326,258 C329.58,257.63 329.87,257.48 331.5,256.4 C333.13,255.32 334.38,254.23 335.8,251.5 C337.22,248.77 338.55,244.58 340,240 C341.45,235.42 343.08,228.58 344.5,224 C345.92,219.42 347.42,214.97 348.5,212.5 C349.58,210.03 350.25,209.88 351,209.2 C351.75,208.52 352.25,208.38 353,208.4 C353.75,208.42 354.38,208.2 355.5,209.3 C356.62,210.4 358.55,213.22 359.7,215 C360.85,216.78 361.35,217.83 362.4,220 C363.45,222.17 364.73,225.33 366,228 C367.27,230.67 368.5,233.87 370,236 C371.5,238.13 372.87,239.33 375,240.8 C377.13,242.27 378.98,243.35 382.8,244.8 C386.62,246.25 393.18,248.33 397.9,249.5 C402.62,250.67 406.95,251.17 411.1,251.8 C415.25,252.43 420.85,253.05 422.8,253.3" fill="none" stroke="#3f88cc" stroke-width="1.25" stroke-linejoin="round"/>
<path d="M288.5,258.6 C292.08,258.65 303.75,258.95 310,258.9 C316.25,258.85 322.42,258.65 326,258.3 C329.58,257.95 330,257.77 331.5,256.8 C333,255.83 333.92,254.47 335,252.5 C336.08,250.53 336.8,248.42 338,245 C339.2,241.58 340.93,236.67 342.2,232 C343.47,227.33 344.57,220.92 345.6,217 C346.63,213.08 347.58,210.53 348.4,208.5 C349.22,206.47 349.85,205.5 350.5,204.8 C351.15,204.1 351.68,204.1 352.3,204.3 C352.92,204.5 353.62,204.63 354.2,206 C354.78,207.37 355,209.58 355.8,212.5 C356.6,215.42 357.5,219.48 359,223.5 C360.5,227.52 362.42,232.85 364.8,236.6 C367.18,240.35 370.3,243.48 373.3,246 C376.3,248.52 378.7,249.82 382.8,251.7 C386.9,253.58 393.18,255.62 397.9,257.3 C402.62,258.98 406.95,260.75 411.1,261.8 C415.25,262.85 420.85,263.3 422.8,263.6" fill="none" stroke="#16306e" stroke-width="1.25" stroke-linejoin="round"/>
<line x1="351.6" y1="206" x2="356.9" y2="244.5" stroke="#ff1a1a" stroke-width="1.5" stroke-dasharray="1.5 1.5"/>
<path d="M354.2,243.6 L357.6,250.5 L359.3,243 Z" fill="#ff1a1a"/>
<text x="340" y="203" font-size="8" font-weight="bold" text-anchor="start" fill="#000" >G<tspan font-size="0.7em" dy="1.6">1</tspan></text>
<text x="361.1" y="218" font-size="7.3" font-weight="bold" text-anchor="start" fill="#000" >Heating</text>
<text x="355.7" y="263.1" font-size="8" font-weight="bold" text-anchor="start" fill="#000" >G<tspan font-size="0.7em" dy="1.6">2</tspan></text>
<rect x="271.1" y="182.6" width="174.5" height="89" fill="none" stroke="#111" stroke-width="1.4"/>
<line x1="271.1" y1="271.6" x2="271.1" y2="274.4" stroke="#111" stroke-width="1" />
<text x="271.1" y="281.6" font-size="6.9" font-weight="bold" text-anchor="middle" fill="#000" >540</text>
<line x1="297.8" y1="271.6" x2="297.8" y2="274.4" stroke="#111" stroke-width="1" />
<text x="297.8" y="281.6" font-size="6.9" font-weight="bold" text-anchor="middle" fill="#000" >560</text>
<line x1="324.5" y1="271.6" x2="324.5" y2="274.4" stroke="#111" stroke-width="1" />
<text x="324.5" y="281.6" font-size="6.9" font-weight="bold" text-anchor="middle" fill="#000" >580</text>
<line x1="351.2" y1="271.6" x2="351.2" y2="274.4" stroke="#111" stroke-width="1" />
<text x="351.2" y="281.6" font-size="6.9" font-weight="bold" text-anchor="middle" fill="#000" >600</text>
<line x1="377.9" y1="271.6" x2="377.9" y2="274.4" stroke="#111" stroke-width="1" />
<text x="377.9" y="281.6" font-size="6.9" font-weight="bold" text-anchor="middle" fill="#000" >620</text>
<line x1="404.6" y1="271.6" x2="404.6" y2="274.4" stroke="#111" stroke-width="1" />
<text x="404.6" y="281.6" font-size="6.9" font-weight="bold" text-anchor="middle" fill="#000" >640</text>
<line x1="431.3" y1="271.6" x2="431.3" y2="274.4" stroke="#111" stroke-width="1" />
<text x="431.3" y="281.6" font-size="6.9" font-weight="bold" text-anchor="middle" fill="#000" >660</text>
<line x1="284.45" y1="271.6" x2="284.45" y2="273.4" stroke="#111" stroke-width="0.8" />
<line x1="311.15" y1="271.6" x2="311.15" y2="273.4" stroke="#111" stroke-width="0.8" />
<line x1="337.85" y1="271.6" x2="337.85" y2="273.4" stroke="#111" stroke-width="0.8" />
<line x1="364.55" y1="271.6" x2="364.55" y2="273.4" stroke="#111" stroke-width="0.8" />
<line x1="391.25" y1="271.6" x2="391.25" y2="273.4" stroke="#111" stroke-width="0.8" />
<line x1="417.95" y1="271.6" x2="417.95" y2="273.4" stroke="#111" stroke-width="0.8" />
<line x1="268.3" y1="271.8" x2="271.1" y2="271.8" stroke="#111" stroke-width="1" />
<text x="266.5" y="274.3" font-size="6.9" font-weight="bold" text-anchor="end" fill="#000" >0.00</text>
<line x1="268.3" y1="247" x2="271.1" y2="247" stroke="#111" stroke-width="1" />
<text x="266.5" y="249.5" font-size="6.9" font-weight="bold" text-anchor="end" fill="#000" >0.05</text>
<line x1="268.3" y1="222.2" x2="271.1" y2="222.2" stroke="#111" stroke-width="1" />
<text x="266.5" y="224.7" font-size="6.9" font-weight="bold" text-anchor="end" fill="#000" >0.10</text>
<line x1="268.3" y1="197.4" x2="271.1" y2="197.4" stroke="#111" stroke-width="1" />
<text x="266.5" y="199.9" font-size="6.9" font-weight="bold" text-anchor="end" fill="#000" >0.15</text>
<line x1="269.3" y1="259.4" x2="271.1" y2="259.4" stroke="#111" stroke-width="0.8" />
<line x1="269.3" y1="234.6" x2="271.1" y2="234.6" stroke="#111" stroke-width="0.8" />
<line x1="269.3" y1="209.8" x2="271.1" y2="209.8" stroke="#111" stroke-width="0.8" />
<text x="354.5" y="292.6" font-size="9" font-weight="bold" text-anchor="middle" fill="#000" >Temperature (K)</text>
<text x="248.3" y="231.2" font-size="8.9" font-weight="bold" text-anchor="middle" fill="#000" transform="rotate(-90 248.3 231.2)" >Heat flow (mW mg<tspan font-size="0.62em" dy="-3">-1</tspan><tspan dy="3">)</tspan></text>
<text x="462" y="188.2" font-size="16.5" font-weight="bold" text-anchor="start" fill="#000" stroke="#000" stroke-width="0.45">g</text>
<text x="511.6" y="191.5" font-size="7.5" font-weight="bold" text-anchor="start" fill="#000" >TiZrHfCuNi HEMG</text>
<path d="M521.4,272.4 C523.67,272.13 531.07,271.27 535,270.8 C538.93,270.33 541.67,269.77 545,269.6 C548.33,269.43 551.67,269.6 555,269.8 C558.33,270 560.83,270.57 565,270.8 C569.17,271.03 574.17,271.17 580,271.2 C585.83,271.23 593.33,271.12 600,271 C606.67,270.88 614.33,270.87 620,270.5 C625.67,270.13 630.25,269.77 634,268.8 C637.75,267.83 639.67,266.45 642.5,264.7 C645.33,262.95 648.35,260.97 651,258.3 C653.65,255.63 656.28,252.07 658.4,248.7 C660.52,245.33 662.17,241.63 663.7,238.1 C665.23,234.57 666.95,229.27 667.6,227.5" fill="none" stroke="#6a1422" stroke-width="1.25" stroke-linejoin="round"/>
<path d="M521.4,272.2 C527.83,272.08 548.57,271.65 560,271.5 C571.43,271.35 583,271.42 590,271.3 C597,271.18 598.92,271.2 602,270.8 C605.08,270.4 606,270.1 608.5,268.9 C611,267.7 614.17,265.9 617,263.6 C619.83,261.3 622.67,257.93 625.5,255.1 C628.33,252.27 631.17,249.43 634,246.6 C636.83,243.77 639.67,240.58 642.5,238.1 C645.33,235.62 648.08,233.65 651,231.7 C653.92,229.75 657.23,227.88 660,226.4 C662.77,224.92 666.33,223.4 667.6,222.8" fill="none" stroke="#f05a3c" stroke-width="1.25" stroke-linejoin="round"/>
<path d="M521.4,272.2 C527.83,272.08 549.73,271.73 560,271.5 C570.27,271.27 577.67,271.3 583,270.8 C588.33,270.3 589.17,269.52 592,268.5 C594.83,267.48 597.25,266.58 600,264.7 C602.75,262.82 605.67,260.03 608.5,257.2 C611.33,254.37 614.17,250.88 617,247.7 C619.83,244.52 622.67,240.77 625.5,238.1 C628.33,235.43 631.17,233.28 634,231.7 C636.83,230.12 639.67,229.48 642.5,228.6 C645.33,227.72 648.08,227.12 651,226.4 C653.92,225.68 657.23,225 660,224.3 C662.77,223.6 666.33,222.55 667.6,222.2" fill="none" stroke="#f8b090" stroke-width="1.25" stroke-linejoin="round"/>
<path d="M521.4,272.2 C527,272.13 546.57,272.08 555,271.8 C563.43,271.52 567.83,271.22 572,270.5 C576.17,269.78 577.1,269.02 580,267.5 C582.9,265.98 586.42,264.18 589.4,261.4 C592.38,258.62 595.07,254.68 597.9,250.8 C600.73,246.92 603.57,241.98 606.4,238.1 C609.23,234.22 612.3,229.97 614.9,227.5 C617.5,225.03 619.17,224.12 622,223.3 C624.83,222.48 627.23,222.78 631.9,222.6 C636.57,222.42 644.05,222.2 650,222.2 C655.95,222.2 664.67,222.53 667.6,222.6" fill="none" stroke="#b8d6f0" stroke-width="1.25" stroke-linejoin="round"/>
<path d="M521.4,272.2 C525.33,272.13 539.4,272.08 545,271.8 C550.6,271.52 552,271.17 555,270.5 C558,269.83 560.08,269.32 563,267.8 C565.92,266.28 569.52,264.58 572.5,261.4 C575.48,258.22 578.43,252.93 580.9,248.7 C583.37,244.47 585.17,240.43 587.3,236 C589.43,231.57 591.58,226 593.7,222.1 C595.82,218.2 597.53,215.07 600,212.6 C602.47,210.13 605.67,208.37 608.5,207.3 C611.33,206.23 614.17,206.2 617,206.2 C619.83,206.2 622.67,206.77 625.5,207.3 C628.33,207.83 631.17,208.68 634,209.4 C636.83,210.12 639.67,210.72 642.5,211.6 C645.33,212.48 647.98,213.65 651,214.7 C654.02,215.75 658.3,217.47 660.6,217.9 C662.9,218.33 663.63,217.72 664.8,217.3 C665.97,216.88 667.13,215.72 667.6,215.4" fill="none" stroke="#4a9ad6" stroke-width="1.25" stroke-linejoin="round"/>
<path d="M521.4,272.4 C522.83,272.17 526.8,271.77 530,271 C533.2,270.23 537.07,269.57 540.6,267.8 C544.13,266.03 547.67,263.58 551.2,260.4 C554.73,257.22 558.62,253.13 561.8,248.7 C564.98,244.27 567.82,239.12 570.3,233.8 C572.78,228.48 574.75,221.75 576.7,216.8 C578.65,211.85 580.23,207.2 582,204.1 C583.77,201 585.53,199.37 587.3,198.2 C589.07,197.03 590.48,196.73 592.6,197.1 C594.72,197.47 597.35,198.52 600,200.4 C602.65,202.28 605.67,205.65 608.5,208.4 C611.33,211.15 614.17,214.25 617,216.9 C619.83,219.55 622.67,222.18 625.5,224.3 C628.33,226.42 631.17,227.93 634,229.6 C636.83,231.27 639.67,232.82 642.5,234.3 C645.33,235.78 648.35,237.52 651,238.5 C653.65,239.48 656.28,240.2 658.4,240.2 C660.52,240.2 662.17,239.13 663.7,238.5 C665.23,237.87 666.95,236.75 667.6,236.4" fill="none" stroke="#1a3a7c" stroke-width="1.25" stroke-linejoin="round"/>
<line x1="585.3" y1="192.6" x2="634.5" y2="200.9" stroke="#ff1a1a" stroke-width="1.3" stroke-dasharray="1.5 1.3"/>
<path d="M633.5,198.6 L639.6,202 L632.8,203.2 Z" fill="#ff1a1a"/>
<text x="608.9" y="193.3" font-size="7.4" font-weight="bold" text-anchor="start" fill="#000" >Heating</text>
<text x="567.5" y="206.3" font-size="8" font-weight="bold" text-anchor="start" fill="#000" >G<tspan font-size="0.7em" dy="1.6">0</tspan></text>
<text x="653.7" y="261.1" font-size="8" font-weight="bold" text-anchor="start" fill="#000" >G<tspan font-size="0.7em" dy="1.6">n</tspan></text>
<rect x="506.1" y="182.4" width="175.1" height="89.2" fill="none" stroke="#111" stroke-width="1.4"/>
<line x1="521.4" y1="271.6" x2="521.4" y2="274.4" stroke="#111" stroke-width="1" />
<text x="521.4" y="281.6" font-size="6.9" font-weight="bold" text-anchor="middle" fill="#000" >680</text>
<line x1="550.3" y1="271.6" x2="550.3" y2="274.4" stroke="#111" stroke-width="1" />
<text x="550.3" y="281.6" font-size="6.9" font-weight="bold" text-anchor="middle" fill="#000" >700</text>
<line x1="579.2" y1="271.6" x2="579.2" y2="274.4" stroke="#111" stroke-width="1" />
<text x="579.2" y="281.6" font-size="6.9" font-weight="bold" text-anchor="middle" fill="#000" >720</text>
<line x1="608.1" y1="271.6" x2="608.1" y2="274.4" stroke="#111" stroke-width="1" />
<text x="608.1" y="281.6" font-size="6.9" font-weight="bold" text-anchor="middle" fill="#000" >740</text>
<line x1="637" y1="271.6" x2="637" y2="274.4" stroke="#111" stroke-width="1" />
<text x="637" y="281.6" font-size="6.9" font-weight="bold" text-anchor="middle" fill="#000" >760</text>
<line x1="665.9" y1="271.6" x2="665.9" y2="274.4" stroke="#111" stroke-width="1" />
<text x="665.9" y="281.6" font-size="6.9" font-weight="bold" text-anchor="middle" fill="#000" >780</text>
<line x1="506.95" y1="271.6" x2="506.95" y2="273.4" stroke="#111" stroke-width="0.8" />
<line x1="535.85" y1="271.6" x2="535.85" y2="273.4" stroke="#111" stroke-width="0.8" />
<line x1="564.75" y1="271.6" x2="564.75" y2="273.4" stroke="#111" stroke-width="0.8" />
<line x1="593.65" y1="271.6" x2="593.65" y2="273.4" stroke="#111" stroke-width="0.8" />
<line x1="622.55" y1="271.6" x2="622.55" y2="273.4" stroke="#111" stroke-width="0.8" />
<line x1="651.45" y1="271.6" x2="651.45" y2="273.4" stroke="#111" stroke-width="0.8" />
<line x1="503.3" y1="272" x2="506.1" y2="272" stroke="#111" stroke-width="1" />
<text x="501.5" y="274.5" font-size="6.9" font-weight="bold" text-anchor="end" fill="#000" >0.00</text>
<line x1="503.3" y1="249.55" x2="506.1" y2="249.55" stroke="#111" stroke-width="1" />
<text x="501.5" y="252.05" font-size="6.9" font-weight="bold" text-anchor="end" fill="#000" >0.02</text>
<line x1="503.3" y1="227.1" x2="506.1" y2="227.1" stroke="#111" stroke-width="1" />
<text x="501.5" y="229.6" font-size="6.9" font-weight="bold" text-anchor="end" fill="#000" >0.04</text>
<line x1="503.3" y1="204.65" x2="506.1" y2="204.65" stroke="#111" stroke-width="1" />
<text x="501.5" y="207.15" font-size="6.9" font-weight="bold" text-anchor="end" fill="#000" >0.06</text>
<line x1="503.3" y1="182.2" x2="506.1" y2="182.2" stroke="#111" stroke-width="1" />
<text x="501.5" y="184.7" font-size="6.9" font-weight="bold" text-anchor="end" fill="#000" >0.08</text>
<line x1="504.3" y1="260.77" x2="506.1" y2="260.77" stroke="#111" stroke-width="0.8" />
<line x1="504.3" y1="238.32" x2="506.1" y2="238.32" stroke="#111" stroke-width="0.8" />
<line x1="504.3" y1="215.88" x2="506.1" y2="215.88" stroke="#111" stroke-width="0.8" />
<line x1="504.3" y1="193.43" x2="506.1" y2="193.43" stroke="#111" stroke-width="0.8" />
<text x="593.9" y="292.4" font-size="9" font-weight="bold" text-anchor="middle" fill="#000" >Temperature (K)</text>
<text x="484.9" y="227.6" font-size="8.9" font-weight="bold" text-anchor="middle" fill="#000" transform="rotate(-90 484.9 227.6)" >Heat flow (mW mg<tspan font-size="0.62em" dy="-3">-1</tspan><tspan dy="3">)</tspan></text>
<text x="229.7" y="310.2" font-size="16.5" font-weight="bold" text-anchor="start" fill="#000" stroke="#000" stroke-width="0.45">f</text>
<text x="276.5" y="320.1" font-size="7.45" font-weight="bold" text-anchor="start" fill="#000" >Pd-based MG</text>
<path d="M323.1,381.5 L399.6,381.5 L399.6,377.9 L409.6,385.4 L399.6,392.7 L399.6,389.4 L323.1,389.4 Z" fill="#a6a6a6"/>
<text x="348.6" y="387.5" font-size="7.7" font-weight="bold" text-anchor="start" fill="#fff" >Heating</text>
<path d="M294.2,330.6 L317.4,330 L340.6,330.6 L363.8,330.3 L387,329.8 L410.2,330.4 L433.4,330.2" fill="none" stroke="#ffc000" stroke-width="1.2" />
<circle cx="294.2" cy="330.6" r="2.6" fill="#ffc000" stroke="#d89a00" stroke-width="0.6"/>
<circle cx="293.4" cy="329.8" r="0.9" fill="#fff" opacity="0.6"/>
<circle cx="317.4" cy="330" r="2.6" fill="#ffc000" stroke="#d89a00" stroke-width="0.6"/>
<circle cx="316.6" cy="329.2" r="0.9" fill="#fff" opacity="0.6"/>
<circle cx="340.6" cy="330.6" r="2.6" fill="#ffc000" stroke="#d89a00" stroke-width="0.6"/>
<circle cx="339.8" cy="329.8" r="0.9" fill="#fff" opacity="0.6"/>
<circle cx="363.8" cy="330.3" r="2.6" fill="#ffc000" stroke="#d89a00" stroke-width="0.6"/>
<circle cx="363" cy="329.5" r="0.9" fill="#fff" opacity="0.6"/>
<circle cx="387" cy="329.8" r="2.6" fill="#ffc000" stroke="#d89a00" stroke-width="0.6"/>
<circle cx="386.2" cy="329" r="0.9" fill="#fff" opacity="0.6"/>
<circle cx="410.2" cy="330.4" r="2.6" fill="#ffc000" stroke="#d89a00" stroke-width="0.6"/>
<circle cx="409.4" cy="329.6" r="0.9" fill="#fff" opacity="0.6"/>
<circle cx="433.4" cy="330.2" r="2.6" fill="#ffc000" stroke="#d89a00" stroke-width="0.6"/>
<circle cx="432.6" cy="329.4" r="0.9" fill="#fff" opacity="0.6"/>
<path d="M294.2,349.1 L317.4,349.5 L340.6,347.4 L363.8,347.7 L387,348.3 L410.2,348.3" fill="none" stroke="#2e6bb0" stroke-width="1.2" />
<circle cx="294.2" cy="349.1" r="2.6" fill="#2e6bb0" stroke="#1f4f8a" stroke-width="0.6"/>
<circle cx="293.4" cy="348.3" r="0.9" fill="#fff" opacity="0.6"/>
<circle cx="317.4" cy="349.5" r="2.6" fill="#2e6bb0" stroke="#1f4f8a" stroke-width="0.6"/>
<circle cx="316.6" cy="348.7" r="0.9" fill="#fff" opacity="0.6"/>
<circle cx="340.6" cy="347.4" r="2.6" fill="#2e6bb0" stroke="#1f4f8a" stroke-width="0.6"/>
<circle cx="339.8" cy="346.6" r="0.9" fill="#fff" opacity="0.6"/>
<circle cx="363.8" cy="347.7" r="2.6" fill="#2e6bb0" stroke="#1f4f8a" stroke-width="0.6"/>
<circle cx="363" cy="346.9" r="0.9" fill="#fff" opacity="0.6"/>
<circle cx="387" cy="348.3" r="2.6" fill="#2e6bb0" stroke="#1f4f8a" stroke-width="0.6"/>
<circle cx="386.2" cy="347.5" r="0.9" fill="#fff" opacity="0.6"/>
<circle cx="410.2" cy="348.3" r="2.6" fill="#2e6bb0" stroke="#1f4f8a" stroke-width="0.6"/>
<circle cx="409.4" cy="347.5" r="0.9" fill="#fff" opacity="0.6"/>
<path d="M294.2,367.6 L317.4,367.3 L340.6,368.6 L363.8,367.9 L387,369 L410.2,368.5" fill="none" stroke="#ee1c24" stroke-width="1.2" />
<circle cx="294.2" cy="367.6" r="2.6" fill="#ee1c24" stroke="#b0101a" stroke-width="0.6"/>
<circle cx="293.4" cy="366.8" r="0.9" fill="#fff" opacity="0.6"/>
<circle cx="317.4" cy="367.3" r="2.6" fill="#ee1c24" stroke="#b0101a" stroke-width="0.6"/>
<circle cx="316.6" cy="366.5" r="0.9" fill="#fff" opacity="0.6"/>
<circle cx="340.6" cy="368.6" r="2.6" fill="#ee1c24" stroke="#b0101a" stroke-width="0.6"/>
<circle cx="339.8" cy="367.8" r="0.9" fill="#fff" opacity="0.6"/>
<circle cx="363.8" cy="367.9" r="2.6" fill="#ee1c24" stroke="#b0101a" stroke-width="0.6"/>
<circle cx="363" cy="367.1" r="0.9" fill="#fff" opacity="0.6"/>
<circle cx="387" cy="369" r="2.6" fill="#ee1c24" stroke="#b0101a" stroke-width="0.6"/>
<circle cx="386.2" cy="368.2" r="0.9" fill="#fff" opacity="0.6"/>
<circle cx="410.2" cy="368.5" r="2.6" fill="#ee1c24" stroke="#b0101a" stroke-width="0.6"/>
<circle cx="409.4" cy="367.7" r="0.9" fill="#fff" opacity="0.6"/>
<text x="277.6" y="333.4" font-size="7.8" font-weight="bold" text-anchor="start" fill="#ffc000" ><tspan font-style="italic">T</tspan><tspan font-size="0.68em" dy="2">g2</tspan></text>
<text x="275.6" y="350" font-size="7.8" font-weight="bold" text-anchor="start" fill="#2e6bd0" ><tspan font-style="italic">T</tspan><tspan font-size="0.62em" dy="1.8">PT-s</tspan></text>
<text x="277.3" y="369.8" font-size="7.8" font-weight="bold" text-anchor="start" fill="#ee1c24" ><tspan font-style="italic">T</tspan><tspan font-size="0.68em" dy="2">g1</tspan></text>
<text x="295" y="379.8" font-size="7.2" font-weight="bold" text-anchor="start" fill="#000" >G<tspan font-size="0.7em" dy="1.6">1</tspan></text>
<text x="429.6" y="342.8" font-size="7.2" font-weight="bold" text-anchor="start" fill="#000" >G<tspan font-size="0.7em" dy="1.6">2</tspan></text>
<rect x="270.6" y="310.2" width="174.7" height="88.6" fill="none" stroke="#111" stroke-width="1.4"/>
<line x1="282.8" y1="398.8" x2="282.8" y2="400.4" stroke="#111" stroke-width="0.8" />
<line x1="294.4" y1="398.8" x2="294.4" y2="400.4" stroke="#111" stroke-width="0.8" />
<line x1="306" y1="398.8" x2="306" y2="400.4" stroke="#111" stroke-width="0.8" />
<line x1="317.6" y1="398.8" x2="317.6" y2="400.4" stroke="#111" stroke-width="0.8" />
<line x1="329.2" y1="398.8" x2="329.2" y2="400.4" stroke="#111" stroke-width="0.8" />
<line x1="340.8" y1="398.8" x2="340.8" y2="400.4" stroke="#111" stroke-width="0.8" />
<line x1="352.4" y1="398.8" x2="352.4" y2="400.4" stroke="#111" stroke-width="0.8" />
<line x1="364" y1="398.8" x2="364" y2="400.4" stroke="#111" stroke-width="0.8" />
<line x1="375.6" y1="398.8" x2="375.6" y2="400.4" stroke="#111" stroke-width="0.8" />
<line x1="387.2" y1="398.8" x2="387.2" y2="400.4" stroke="#111" stroke-width="0.8" />
<line x1="398.8" y1="398.8" x2="398.8" y2="400.4" stroke="#111" stroke-width="0.8" />
<line x1="410.4" y1="398.8" x2="410.4" y2="400.4" stroke="#111" stroke-width="0.8" />
<line x1="422" y1="398.8" x2="422" y2="400.4" stroke="#111" stroke-width="0.8" />
<line x1="433.6" y1="398.8" x2="433.6" y2="400.4" stroke="#111" stroke-width="0.8" />
<line x1="267.8" y1="398.8" x2="270.6" y2="398.8" stroke="#111" stroke-width="1" />
<text x="266" y="401.3" font-size="6.9" font-weight="bold" text-anchor="end" fill="#000" >520</text>
<line x1="267.8" y1="369.33" x2="270.6" y2="369.33" stroke="#111" stroke-width="1" />
<text x="266" y="371.83" font-size="6.9" font-weight="bold" text-anchor="end" fill="#000" >560</text>
<line x1="267.8" y1="339.86" x2="270.6" y2="339.86" stroke="#111" stroke-width="1" />
<text x="266" y="342.36" font-size="6.9" font-weight="bold" text-anchor="end" fill="#000" >600</text>
<line x1="267.8" y1="310.4" x2="270.6" y2="310.4" stroke="#111" stroke-width="1" />
<text x="266" y="312.9" font-size="6.9" font-weight="bold" text-anchor="end" fill="#000" >640</text>
<line x1="268.8" y1="384.07" x2="270.6" y2="384.07" stroke="#111" stroke-width="0.8" />
<line x1="268.8" y1="354.6" x2="270.6" y2="354.6" stroke="#111" stroke-width="0.8" />
<line x1="268.8" y1="325.13" x2="270.6" y2="325.13" stroke="#111" stroke-width="0.8" />
<text x="357.5" y="409.5" font-size="9.5" font-weight="bold" text-anchor="middle" fill="#000" >Coordinates</text>
<text x="250.3" y="354.5" font-size="9.3" font-weight="bold" text-anchor="middle" fill="#000" transform="rotate(-90 250.3 354.5)" >Temperature (K)</text>
<text x="462.8" y="310.5" font-size="16.5" font-weight="bold" text-anchor="start" fill="#000" stroke="#000" stroke-width="0.45">h</text>
<text x="511.4" y="320.2" font-size="7.5" font-weight="bold" text-anchor="start" fill="#000" >TiZrHfCuNi HEMG</text>
<path d="M560.8,380.6 L636.3,380.6 L636.3,377.3 L648,385 L636.3,393 L636.3,389 L560.8,389 Z" fill="#a6a6a6"/>
<text x="588.6" y="387.5" font-size="7.7" font-weight="bold" text-anchor="start" fill="#fff" >Heating</text>
<path d="M533.3,346.4 L560.15,340.7 L587,334.6 L613.85,329.9 L640.7,324.9" fill="none" stroke="#2e6bb0" stroke-width="1.2" />
<circle cx="533.3" cy="346.4" r="2.6" fill="#2e6bb0" stroke="#1f4f8a" stroke-width="0.6"/>
<circle cx="532.5" cy="345.6" r="0.9" fill="#fff" opacity="0.6"/>
<circle cx="560.15" cy="340.7" r="2.6" fill="#2e6bb0" stroke="#1f4f8a" stroke-width="0.6"/>
<circle cx="559.35" cy="339.9" r="0.9" fill="#fff" opacity="0.6"/>
<circle cx="587" cy="334.6" r="2.6" fill="#2e6bb0" stroke="#1f4f8a" stroke-width="0.6"/>
<circle cx="586.2" cy="333.8" r="0.9" fill="#fff" opacity="0.6"/>
<circle cx="613.85" cy="329.9" r="2.6" fill="#2e6bb0" stroke="#1f4f8a" stroke-width="0.6"/>
<circle cx="613.05" cy="329.1" r="0.9" fill="#fff" opacity="0.6"/>
<circle cx="640.7" cy="324.9" r="2.6" fill="#2e6bb0" stroke="#1f4f8a" stroke-width="0.6"/>
<circle cx="639.9" cy="324.1" r="0.9" fill="#fff" opacity="0.6"/>
<path d="M533.3,379.7 L560.15,371.3 L587,366.6 L613.85,358.8 L640.7,355.8 L667.55,350.1" fill="none" stroke="#ee1c24" stroke-width="1.2" />
<circle cx="533.3" cy="379.7" r="2.6" fill="#ee1c24" stroke="#b0101a" stroke-width="0.6"/>
<circle cx="532.5" cy="378.9" r="0.9" fill="#fff" opacity="0.6"/>
<circle cx="560.15" cy="371.3" r="2.6" fill="#ee1c24" stroke="#b0101a" stroke-width="0.6"/>
<circle cx="559.35" cy="370.5" r="0.9" fill="#fff" opacity="0.6"/>
<circle cx="587" cy="366.6" r="2.6" fill="#ee1c24" stroke="#b0101a" stroke-width="0.6"/>
<circle cx="586.2" cy="365.8" r="0.9" fill="#fff" opacity="0.6"/>
<circle cx="613.85" cy="358.8" r="2.6" fill="#ee1c24" stroke="#b0101a" stroke-width="0.6"/>
<circle cx="613.05" cy="358" r="0.9" fill="#fff" opacity="0.6"/>
<circle cx="640.7" cy="355.8" r="2.6" fill="#ee1c24" stroke="#b0101a" stroke-width="0.6"/>
<circle cx="639.9" cy="355" r="0.9" fill="#fff" opacity="0.6"/>
<circle cx="667.55" cy="350.1" r="2.6" fill="#ee1c24" stroke="#b0101a" stroke-width="0.6"/>
<circle cx="666.75" cy="349.3" r="0.9" fill="#fff" opacity="0.6"/>
<text x="512.8" y="348.7" font-size="8.2" font-weight="bold" text-anchor="start" fill="#2e6bd0" ><tspan font-style="italic">T</tspan><tspan font-size="0.62em" dy="1.5">PT-s</tspan></text>
<text x="517.8" y="382.3" font-size="8.2" font-weight="bold" text-anchor="start" fill="#ee1c24" ><tspan font-style="italic">T</tspan><tspan font-size="0.62em" dy="1.5">g</tspan></text>
<text x="532.9" y="390.7" font-size="7.2" font-weight="bold" text-anchor="start" fill="#000" >G<tspan font-size="0.7em" dy="1.6">0</tspan></text>
<text x="666.3" y="361.2" font-size="7.2" font-weight="bold" text-anchor="start" fill="#000" >G<tspan font-size="0.7em" dy="1.6">n</tspan></text>
<rect x="506.2" y="310.2" width="174.8" height="88.6" fill="none" stroke="#111" stroke-width="1.4"/>
<line x1="520" y1="398.8" x2="520" y2="400.4" stroke="#111" stroke-width="0.8" />
<line x1="533.42" y1="398.8" x2="533.42" y2="400.4" stroke="#111" stroke-width="0.8" />
<line x1="546.84" y1="398.8" x2="546.84" y2="400.4" stroke="#111" stroke-width="0.8" />
<line x1="560.26" y1="398.8" x2="560.26" y2="400.4" stroke="#111" stroke-width="0.8" />
<line x1="573.68" y1="398.8" x2="573.68" y2="400.4" stroke="#111" stroke-width="0.8" />
<line x1="587.1" y1="398.8" x2="587.1" y2="400.4" stroke="#111" stroke-width="0.8" />
<line x1="600.52" y1="398.8" x2="600.52" y2="400.4" stroke="#111" stroke-width="0.8" />
<line x1="613.94" y1="398.8" x2="613.94" y2="400.4" stroke="#111" stroke-width="0.8" />
<line x1="627.36" y1="398.8" x2="627.36" y2="400.4" stroke="#111" stroke-width="0.8" />
<line x1="640.78" y1="398.8" x2="640.78" y2="400.4" stroke="#111" stroke-width="0.8" />
<line x1="654.2" y1="398.8" x2="654.2" y2="400.4" stroke="#111" stroke-width="0.8" />
<line x1="667.62" y1="398.8" x2="667.62" y2="400.4" stroke="#111" stroke-width="0.8" />
<line x1="681.04" y1="398.8" x2="681.04" y2="400.4" stroke="#111" stroke-width="0.8" />
<line x1="503.4" y1="399.2" x2="506.2" y2="399.2" stroke="#111" stroke-width="1" />
<text x="501.6" y="401.7" font-size="6.9" font-weight="bold" text-anchor="end" fill="#000" >600</text>
<line x1="503.4" y1="378.3" x2="506.2" y2="378.3" stroke="#111" stroke-width="1" />
<text x="501.6" y="380.8" font-size="6.9" font-weight="bold" text-anchor="end" fill="#000" >640</text>
<line x1="503.4" y1="357.4" x2="506.2" y2="357.4" stroke="#111" stroke-width="1" />
<text x="501.6" y="359.9" font-size="6.9" font-weight="bold" text-anchor="end" fill="#000" >680</text>
<line x1="503.4" y1="336.5" x2="506.2" y2="336.5" stroke="#111" stroke-width="1" />
<text x="501.6" y="339" font-size="6.9" font-weight="bold" text-anchor="end" fill="#000" >720</text>
<line x1="503.4" y1="315.6" x2="506.2" y2="315.6" stroke="#111" stroke-width="1" />
<text x="501.6" y="318.1" font-size="6.9" font-weight="bold" text-anchor="end" fill="#000" >760</text>
<line x1="504.4" y1="388.75" x2="506.2" y2="388.75" stroke="#111" stroke-width="0.8" />
<line x1="504.4" y1="367.85" x2="506.2" y2="367.85" stroke="#111" stroke-width="0.8" />
<line x1="504.4" y1="346.95" x2="506.2" y2="346.95" stroke="#111" stroke-width="0.8" />
<line x1="504.4" y1="326.05" x2="506.2" y2="326.05" stroke="#111" stroke-width="0.8" />
<text x="593.8" y="409.5" font-size="9.5" font-weight="bold" text-anchor="middle" fill="#000" >Coordinates</text>
<text x="485.5" y="354.5" font-size="9.3" font-weight="bold" text-anchor="middle" fill="#000" transform="rotate(-90 485.5 354.5)" >Temperature (K)</text>
</svg></body></html>
